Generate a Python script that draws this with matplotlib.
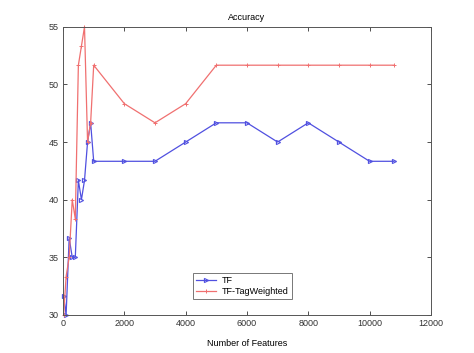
import matplotlib
matplotlib.use("Agg")
import matplotlib.pyplot as plt

plt.rcParams['font.family'] = ['Liberation Sans', 'DejaVu Sans']

tf_x = [20, 100, 200, 300, 400, 500, 600, 700, 800, 900, 1000,
        2000, 3000, 4000, 5000, 6000, 7000, 8000, 9000, 10000, 10800]
tf_y = [31.67, 30, 36.67, 35, 35, 41.67, 40, 41.67, 45, 46.67, 43.33,
        43.33, 43.33, 45, 46.67, 46.67, 45, 46.67, 45, 43.33, 43.33]

tw_x = [20, 100, 200, 300, 400, 500, 600, 700, 800, 900, 1000,
        2000, 3000, 4000, 5000, 6000, 7000, 8000, 9000, 10000, 10800]
tw_y = [30, 33.33, 35, 40, 38.33, 51.67, 53.33, 55, 45, 46.67, 51.67,
        48.33, 46.67, 48.33, 51.67, 51.67, 51.67, 51.67, 51.67, 51.67, 51.67]

x_ticks = [0, 2000, 4000, 6000, 8000, 10000, 12000]
y_ticks = [30, 35, 40, 45, 50, 55]

fig = plt.figure(figsize=(4.74, 3.53), dpi=100)
ax = fig.add_axes([0.133, 0.108, 0.776, 0.816])

ax.plot(tf_x, tf_y, color='#5050e0', lw=0.9, marker='>', ms=3,
        mfc='none', mec='#5050e0', mew=0.8, label='TF', clip_on=False)
ax.plot(tw_x, tw_y, color='#f07070', lw=0.9, marker='+', ms=3,
        mec='#f07070', mew=0.7, label='TF-TagWeighted', clip_on=False)

ax.set_xlim(0, 12000)
ax.set_ylim(30, 55)
ax.set_xticks(x_ticks)
ax.set_yticks(y_ticks)
ax.tick_params(direction='in', top=True, right=True, labelsize=6.5,
               length=3, width=0.6, colors='#333333', pad=3)
for s in ax.spines.values():
    s.set_color('#555555')
    s.set_linewidth(0.7)
ax.set_title('Accuracy', fontsize=6.5, pad=5)
ax.set_xlabel('Number of Features', fontsize=6.5, labelpad=8)

leg = ax.legend(loc='lower left', bbox_to_anchor=(0.34, 0.04), fontsize=6.5,
                frameon=True, fancybox=False, edgecolor='#555555',
                borderpad=0.35, handlelength=2.2, labelspacing=0.15,
                handletextpad=0.7)
leg.get_frame().set_linewidth(0.7)

fig.savefig('out.png', dpi=100)
